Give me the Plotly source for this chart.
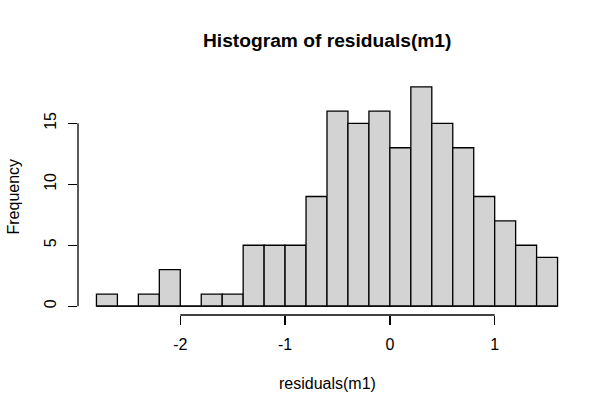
import plotly.graph_objects as go

bin_left = [-2.8, -2.6, -2.4, -2.2, -2.0, -1.8, -1.6, -1.4, -1.2, -1.0, -0.8,
            -0.6, -0.4, -0.2, 0.0, 0.2, 0.4, 0.6, 0.8, 1.0, 1.2, 1.4]
counts = [1, 0, 1, 3, 0, 1, 1, 5, 5, 5, 9, 16, 15, 16, 13, 18, 15, 13, 9, 7, 5, 4]
bin_width = 0.2
x_ticks = [-2, -1, 0, 1]
y_ticks = [0, 5, 10, 15]
title_text = "Histogram of residuals(m1)"
x_title = "residuals(m1)"
y_title = "Frequency"

centers = [b + bin_width / 2 for b in bin_left]
FONT = "Liberation Sans, Arial, sans-serif"

fig = go.Figure()
fig.add_trace(go.Bar(
    x=centers, y=counts, width=bin_width,
    marker=dict(color="#D3D3D3", line=dict(color="black", width=1.3)),
    hoverinfo="skip",
))
# baseline (empty bins in R still show their bottom edge)
fig.add_trace(go.Scatter(
    x=[bin_left[0], bin_left[-1] + bin_width], y=[0, 0], mode="lines",
    line=dict(color="black", width=1.3), hoverinfo="skip",
))

span = bin_left[-1] + bin_width - bin_left[0]
xr = [bin_left[0] - 0.04 * span, bin_left[-1] + bin_width + 0.04 * span]
ymax = max(counts)
yr = [-0.04 * ymax, ymax * 1.04]

fig.update_layout(
    width=616, height=413,
    margin=dict(l=78, r=40, t=78, b=98),
    paper_bgcolor="white", plot_bgcolor="white",
    showlegend=False,
    font=dict(family=FONT, size=16, color="black"),
    xaxis=dict(range=xr, tickvals=x_ticks, ticktext=[str(v) for v in x_ticks],
               ticks="outside", ticklen=9, tickwidth=1.3, tickcolor="black",
               showgrid=False, zeroline=False, showline=False,
               tickfont=dict(size=16, family=FONT), ticklabelstandoff=6),
    yaxis=dict(range=yr, tickvals=y_ticks, ticktext=[str(v) for v in y_ticks],
               ticks="outside", ticklen=9, tickwidth=1.3, tickcolor="black",
               showgrid=False, zeroline=False, showline=False, tickangle=-90,
               tickfont=dict(size=16, family=FONT), ticklabelstandoff=6),
)

# axis lines spanning only the tick range, like R
fig.add_shape(type="line", xref="x", yref="paper", x0=x_ticks[0], x1=x_ticks[-1],
              y0=0, y1=0, line=dict(color="black", width=1.3))
fig.add_shape(type="line", xref="paper", yref="y", x0=0, x1=0,
              y0=y_ticks[0], y1=y_ticks[-1], line=dict(color="black", width=1.3))

fig.add_annotation(text="<b>" + title_text + "</b>", xref="paper", yref="paper",
                   x=0.5, y=1, yshift=38, showarrow=False, yanchor="middle",
                   font=dict(size=19.2, family=FONT, color="black"))
fig.add_annotation(text=x_title, xref="paper", yref="paper", x=0.5, y=0,
                   yshift=-68, showarrow=False, yanchor="middle",
                   font=dict(size=16, family=FONT, color="black"))
fig.add_annotation(text=y_title, xref="paper", yref="paper", x=0, y=0.5,
                   xshift=-65, showarrow=False, textangle=-90, xanchor="center",
                   font=dict(size=16, family=FONT, color="black"))

fig.write_html("out.html",
               config={"displayModeBar": False, "staticPlot": True},
               post_script="document.body.style.margin='0';document.body.style.overflow='hidden';")
